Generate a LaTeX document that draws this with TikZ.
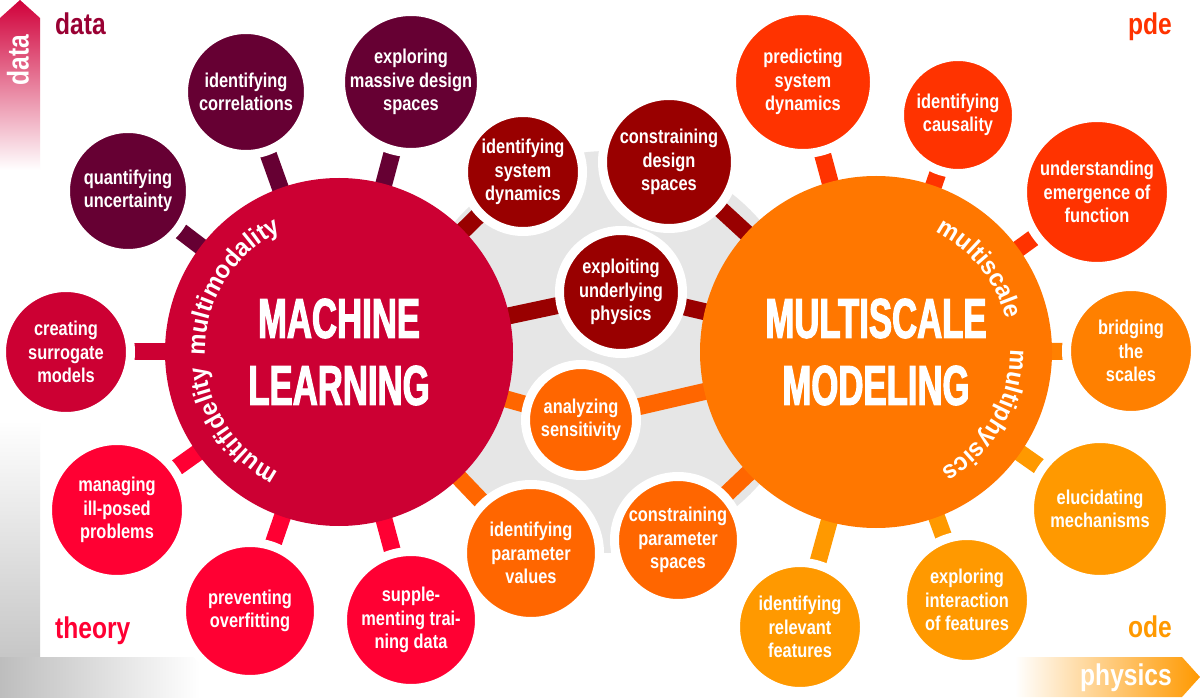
\documentclass[tikz,border=0pt]{standalone}
\usepackage{fontspec}
\setmainfont{Liberation Sans}[FakeStretch=0.82]
\newfontfamily\titlefont{Liberation Sans}[FakeStretch=0.62, BoldFeatures={FakeBold=2}]
\newfontfamily\arcfont{Liberation Sans}[FakeStretch=0.95]
\usetikzlibrary{decorations.text}
\pgfdeclarelayer{bg}
\pgfsetlayers{bg,main}
\definecolor{cML}{HTML}{CC0033}
\definecolor{cMM}{HTML}{FF7700}
\definecolor{cPurple}{HTML}{660033}
\definecolor{cRed}{HTML}{FF0033}
\definecolor{cDark}{HTML}{990000}
\definecolor{cOrange}{HTML}{FF6600}
\definecolor{cRedOr}{HTML}{FF3300}
\definecolor{cOrTwo}{HTML}{FF8000}
\definecolor{cYel}{HTML}{FF9900}
\definecolor{cGrey}{HTML}{E6E6E6}
\definecolor{cData}{HTML}{990033}
\definecolor{cArrow}{HTML}{D0003A}
\definecolor{cShadow}{HTML}{BDBDBD}
\tikzset{
  big/.style={circle, inner sep=0pt, align=center, text=white,
    font=\titlefont\bfseries\fontsize{56}{67}\selectfont},
  sat/.style args={#1/#2}{circle, fill=#1, draw=white, line width=9pt,
    minimum size=#2, inner sep=0pt, align=center, text=white,
    font=\bfseries\fontsize{20}{23.5}\selectfont},
  conn/.style={line width=17pt, draw=#1},
  corner/.style={font=\bfseries\fontsize{30}{30}\selectfont, inner sep=0pt},
  arctext/.style={decorate, decoration={text along path, text align=center,
    text color=white, text={|\arcfont\bfseries\fontsize{25}{25}\selectfont|#1}}},
}
\begin{document}
\begin{tikzpicture}[x=1pt,y=1pt]
\useasboundingbox (0,0) rectangle (1200,697);
\begin{pgfonlayer}{bg}
  \fill[white] (0,0) rectangle (1200,697);
  \shade[top color=white, bottom color=cShadow] (0,0) rectangle (40,277);
  \shade[left color=cShadow, right color=white] (0,0) rectangle (200,40);
  \shade[top color=cArrow, bottom color=white] (0,527) -- (0,679) -- (20,697) -- (40,679) -- (40,527) -- cycle;
  \shade[left color=white, right color=cYel] (1015,0) -- (1182,0) -- (1200,20) -- (1182,40) -- (1015,40) -- cycle;
  \fill[cGrey] (608,345) circle[radius=201pt];
\end{pgfonlayer}

% axis labels
\node[corner, text=white, rotate=90] (axdata) at (18,637) {data};
\node[corner, text=white, anchor=base east] (axphys) at (1172,12) {physics};
\node[corner, text=cData, anchor=base west] (ldata) at (55,662) {data};
\node[corner, text=cRedOr, anchor=base east] (lpde) at (1172,662) {pde};
\node[corner, text=cRed, anchor=base west] (ltheory) at (55,59) {theory};
\node[corner, text=cYel, anchor=base east] (lode) at (1172,60) {ode};

% big circles
\node[big, fill=cML, minimum size=348pt] (ML) at (339,345) {MACHINE\\LEARNING};
\node[big, fill=cMM, minimum size=352pt] (MM) at (876,345) {MULTISCALE\\MODELING};

% satellites left
\node[sat={cPurple/125pt}] (qu) at (128,506) {quantifying\\uncertainty};
\node[sat={cPurple/125pt}] (ic) at (246,605) {identifying\\correlations};
\node[sat={cPurple/141pt}] (em) at (411,615) {exploring\\massive design\\spaces};
\node[sat={cML/129pt}] (cs) at (66,345) {creating\\surrogate\\models};
\node[sat={cRed/139pt}] (mi) at (117,187) {managing\\ill-posed\\problems};
\node[sat={cRed/137pt}] (po) at (250,86) {preventing\\overfitting};
\node[sat={cRed/137pt}] (su) at (411,77) {supple-\\menting trai-\\ning data};
% middle
\node[sat={cDark/119pt}] (isd) at (523,525) {identifying\\system\\dynamics};
\node[sat={cDark/133pt}] (cds) at (669,535) {constraining\\design\\spaces};
\node[sat={cDark/123pt}] (eup) at (621,405) {exploiting\\underlying\\physics};
\node[sat={cOrange/111pt}] (as) at (581,277) {analyzing\\sensitivity};
\node[sat={cOrange/137pt}] (ipv) at (531,144) {identifying\\parameter\\values};
\node[sat={cOrange/127pt}] (cps) at (678,157) {constraining\\parameter\\spaces};
% right
\node[sat={cRedOr/143pt}] (psd) at (803,615) {predicting\\system\\dynamics};
\node[sat={cRedOr/117pt}] (ica) at (958,582) {identifying\\causality};
\node[sat={cRedOr/149pt}] (uef) at (1097,505) {understanding\\emergence of\\function};
\node[sat={cOrTwo/129pt}] (bts) at (1131,346) {bridging\\the\\scales};
\node[sat={cYel/141pt}] (elm) at (1100,188) {elucidating\\mechanisms};
\node[sat={cYel/129pt}] (eif) at (967,97) {exploring\\interaction\\of features};
\node[sat={cYel/129pt}] (irf) at (800,70) {identifying\\relevant\\features};

\begin{pgfonlayer}{bg}
  \draw[conn=cPurple] (ML.center) -- (qu.center);
  \draw[conn=cPurple] (ML.center) -- (ic.center);
  \draw[conn=cPurple] (ML.center) -- (em.center);
  \draw[conn=cML] (ML.center) -- (cs.center);
  \draw[conn=cRed] (ML.center) -- (mi.center);
  \draw[conn=cRed] (ML.center) -- (po.center);
  \draw[conn=cRed] (ML.center) -- (su.center);
  \draw[conn=cDark] (ML.center) -- (isd.center);
  \draw[conn=cDark] (ML.center) -- (eup.center);
  \draw[conn=cOrange] (ML.center) -- (as.center);
  \draw[conn=cOrange] (ML.center) -- (ipv.center);
  \draw[conn=cDark] (MM.center) -- (cds.center);
  \draw[conn=cDark] (MM.center) -- (eup.center);
  \draw[conn=cOrange] (MM.center) -- (as.center);
  \draw[conn=cOrange] (MM.center) -- (cps.center);
  \draw[conn=cRedOr] (MM.center) -- (psd.center);
  \draw[conn=cRedOr] (MM.center) -- (ica.center);
  \draw[conn=cRedOr] (MM.center) -- (uef.center);
  \draw[conn=cOrTwo] (MM.center) -- (bts.center);
  \draw[conn=cYel] (MM.center) -- (elm.center);
  \draw[conn=cYel] (MM.center) -- (eif.center);
  \draw[conn=cYel] (MM.center) -- (irf.center);
\end{pgfonlayer}

% curved texts
\path[arctext=multimodality] ([shift={(193.5:134pt)}]ML.center) arc[start angle=193.5, end angle=103.5, radius=134pt];
\path[arctext=multifidelity] ([shift={(259.8:134pt)}]ML.center) arc[start angle=259.8, end angle=169.8, radius=134pt];
\path[arctext=multiscale] ([shift={(83.8:134pt)}]MM.center) arc[start angle=83.8, end angle=-6.2, radius=134pt];
\path[arctext=multiphysics] ([shift={(15.1:134pt)}]MM.center) arc[start angle=15.1, end angle=-74.9, radius=134pt];
\end{tikzpicture}
\end{document}
